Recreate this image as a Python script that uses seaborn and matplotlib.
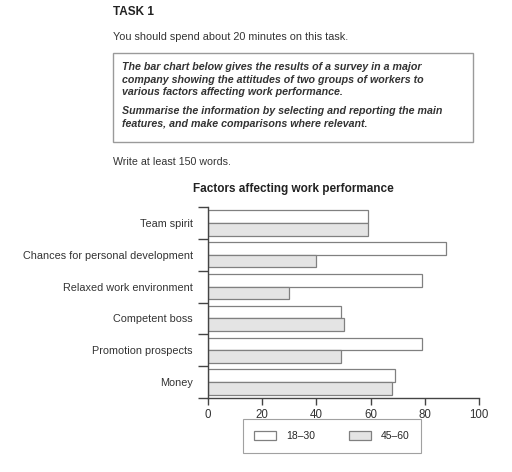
import pandas as pd
import matplotlib
matplotlib.use("Agg")
import matplotlib.pyplot as plt
import seaborn as sns
from matplotlib.patches import Rectangle

# data
factors = ["Team spirit", "Chances for personal development", "Relaxed work environment",
           "Competent boss", "Promotion prospects", "Money"]
young = [59, 88, 79, 49, 79, 69]
older = [59, 40, 30, 50, 49, 68]
groups = ["18\u201330", "45\u201360"]
xticks = [0, 20, 40, 60, 80, 100]

df = pd.DataFrame({
    "factor": factors * 2,
    "value": young + older,
    "group": [groups[0]] * len(factors) + [groups[1]] * len(factors),
})

sns.set_style("white")
plt.rcParams["font.family"] = ["Liberation Sans", "DejaVu Sans"]

fig = plt.figure(figsize=(5.12, 4.72), dpi=100)

# header texts
fig.text(113 / 512, 1 - 12 / 472, "TASK 1", fontsize=8.5, fontweight="bold",
         va="center", color="#222")
fig.text(113 / 512, 1 - 37 / 472, "You should spend about 20 minutes on this task.",
         fontsize=7.8, va="center", color="#333")
fig.add_artist(Rectangle((113 / 512, 1 - 142 / 472), 360 / 512, 89 / 472,
                         transform=fig.transFigure, fill=False, edgecolor="#9a9a9a", lw=1))
box_lines = [
    (67, "The bar chart below gives the results of a survey in a major"),
    (80, "company showing the attitudes of two groups of workers to"),
    (92, "various factors affecting work performance."),
    (111, "Summarise the information by selecting and reporting the main"),
    (124, "features, and make comparisons where relevant."),
]
for y, line in box_lines:
    fig.text(122 / 512, 1 - y / 472, line, fontsize=7.7, fontweight="bold",
             style="italic", va="center", color="#333")
fig.text(113 / 512, 1 - 162 / 472, "Write at least 150 words.",
         fontsize=7.7, va="center", color="#333")
fig.text(293 / 512, 1 - 189 / 472, "Factors affecting work performance",
         fontsize=8.5, fontweight="bold", ha="center", va="center", color="#222")

# chart
ax = fig.add_axes([208 / 512, 1 - 398 / 472, 271 / 512, 191 / 472])
sns.barplot(data=df, y="factor", x="value", hue="group", orient="h",
            order=factors, hue_order=groups,
            palette={groups[0]: "white", groups[1]: "#e4e4e4"},
            edgecolor="#808080", linewidth=0.9, width=0.8, ax=ax)

ax.set_xlim(0, 100)
ax.set_ylim(5.5, -0.5)
ax.set_xticks(xticks)
ax.set_xticklabels([str(t) for t in xticks], fontsize=8.3, color="#333")
ax.set_yticks(range(len(factors)))
ax.set_yticklabels(factors, fontsize=7.8, color="#333")
ax.set_yticks([i - 0.5 for i in range(len(factors) + 1)], minor=True)
ax.tick_params(axis="y", which="major", left=True, length=0, pad=11)
ax.tick_params(axis="y", which="minor", left=True, length=7, width=1, color="#444")
ax.tick_params(axis="x", bottom=True, length=5, width=1, color="#444", pad=3)
ax.set_xlabel("")
ax.set_ylabel("")
for side in ["top", "right"]:
    ax.spines[side].set_visible(False)
for side in ["left", "bottom"]:
    ax.spines[side].set_color("#444")
    ax.spines[side].set_linewidth(1)

handles, labels = ax.get_legend_handles_labels()
ax.get_legend().remove()
leg = fig.legend(handles, labels, loc="center", bbox_to_anchor=(332 / 512, 1 - 436 / 472),
                 ncol=2, fontsize=7.5, frameon=True, fancybox=False, edgecolor="#8a8a8a",
                 handlelength=2.1, handleheight=1.0, handletextpad=1.0,
                 columnspacing=3.2, borderpad=1.1)
leg.get_frame().set_linewidth(0.8)

fig.savefig("out.png", dpi=100)
